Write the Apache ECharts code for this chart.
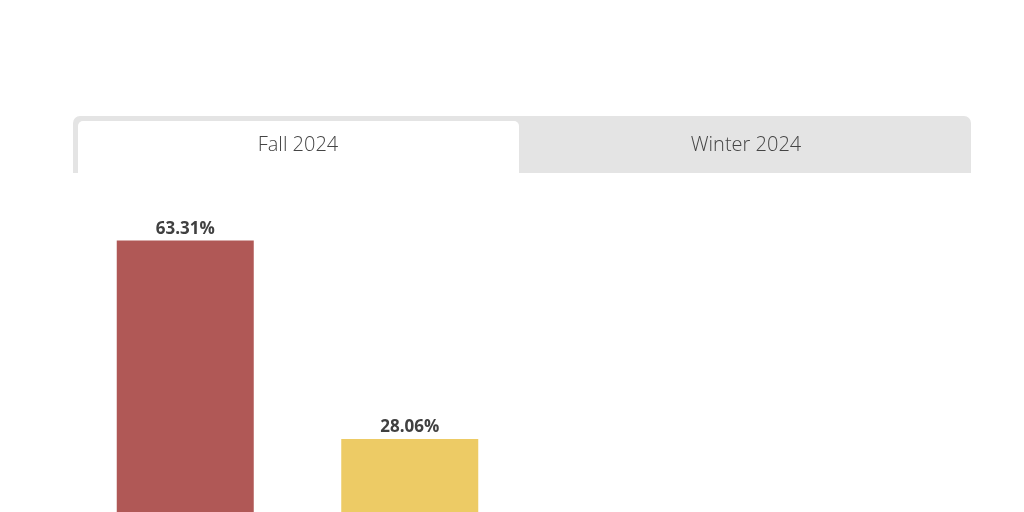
<!DOCTYPE html>
<html>
<head>
<meta charset="utf-8">
<script src="https://cdn.jsdelivr.net/npm/echarts@6/dist/echarts.min.js"></script>
<style>
html,body{margin:0;padding:0;background:#fff;}
#c{width:1024px;height:512px;}
</style>
</head>
<body>
<div id="c"></div>
<script>
const tabs = ['Fall 2024', 'Winter 2024'];
const categories = ['A', 'B', 'C', 'D'];
const values = [63.31, 28.06, 5.92, 2.71];
const colors = ['#b05856', '#edcb65', '#8aa4b8', '#9c9c9c'];

const chart = echarts.init(document.getElementById('c'));
chart.setOption({
  animation: false,
  grid: { left: 73, right: 53, top: 34, bottom: 0 },
  xAxis: {
    type: 'category',
    data: categories,
    axisLine: { show: false },
    axisTick: { show: false },
    axisLabel: { show: false }
  },
  yAxis: {
    type: 'value',
    min: 15.1,
    max: 100,
    show: false,
    splitLine: { show: false }
  },
  series: [{
    type: 'bar',
    barWidth: 137,
    clip: true,
    data: values.map((v, i) => ({ value: v, itemStyle: { color: colors[i] } })),
    label: {
      show: true,
      position: 'top',
      distance: 3,
      formatter: p => p.value.toFixed(2) + '%',
      fontFamily: 'Open Sans',
      fontWeight: 'bold',
      fontSize: 17,
      color: '#404040'
    }
  }],
  graphic: [
    { type: 'rect', shape: { x: 73, y: 116, width: 898, height: 57, r: [7, 7, 0, 0] }, style: { fill: '#e4e4e4' } },
    { type: 'rect', shape: { x: 78, y: 121, width: 441, height: 52, r: [5, 5, 0, 0] }, style: { fill: '#ffffff' } },
    { type: 'text', x: 298, y: 145, style: { text: tabs[0], fill: '#444444', font: '300 20px "Open Sans"', textAlign: 'center', textVerticalAlign: 'middle' } },
    { type: 'text', x: 746, y: 145, style: { text: tabs[1], fill: '#444444', font: '300 20px "Open Sans"', textAlign: 'center', textVerticalAlign: 'middle' } }
  ]
});
</script>
</body>
</html>
